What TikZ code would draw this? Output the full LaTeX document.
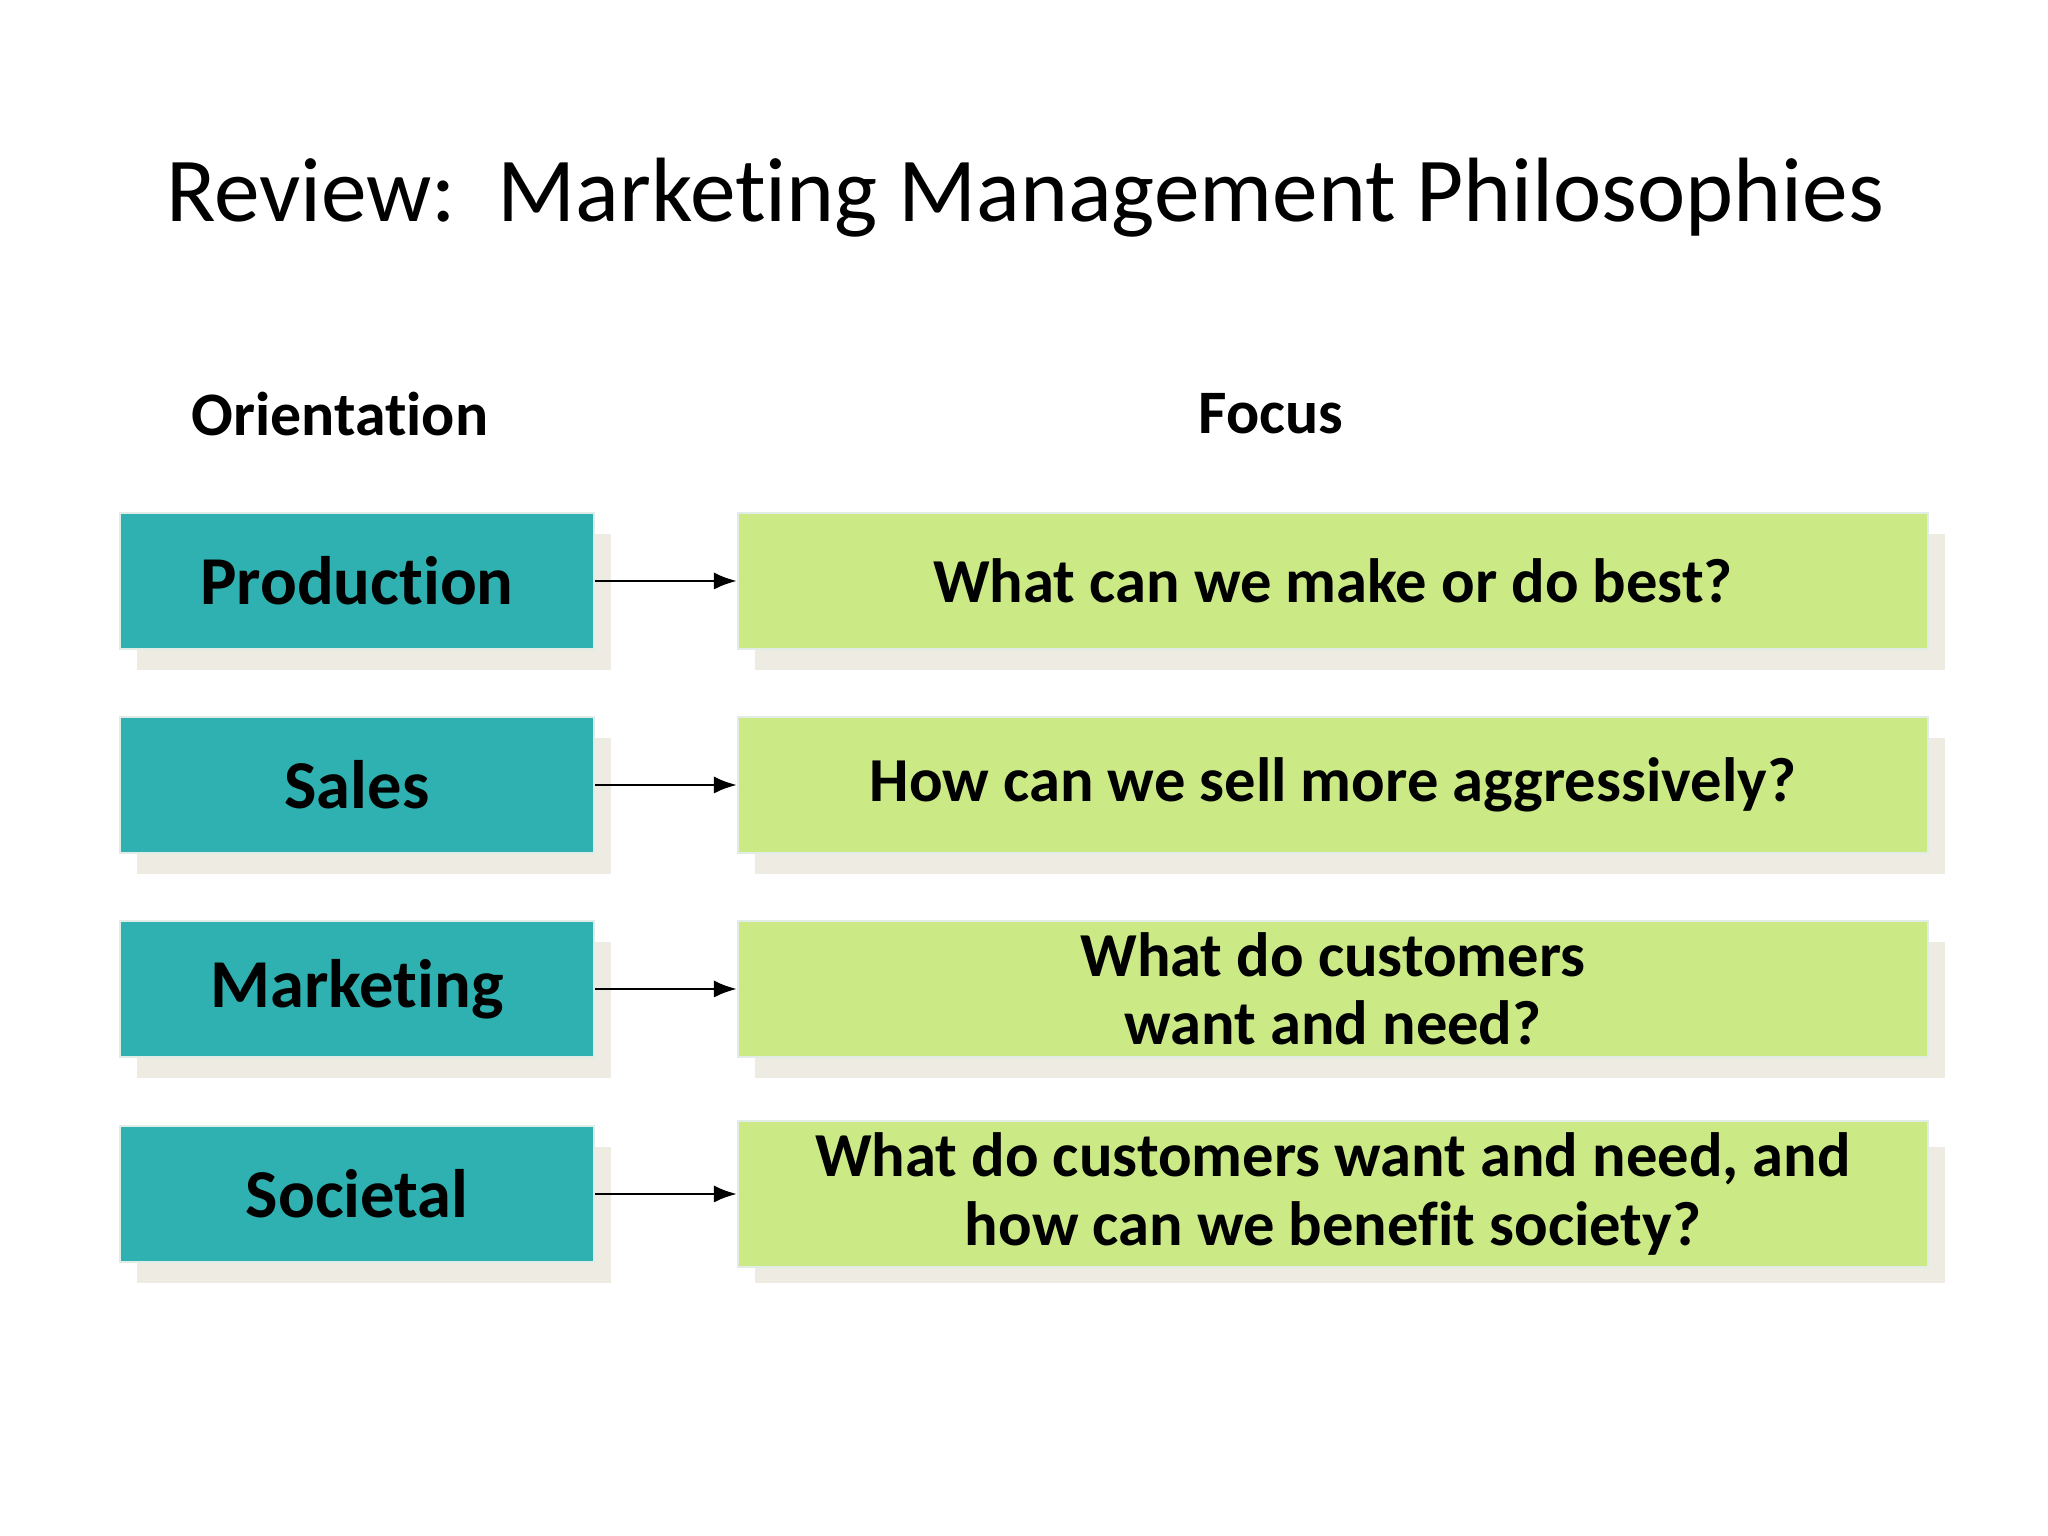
\documentclass[tikz,border=0pt]{standalone}
\usepackage{fontspec}
\setmainfont{Carlito}[Ligatures=NoCommon]
\usetikzlibrary{arrows.meta}
\definecolor{orientfill}{HTML}{2EB1B0}
\definecolor{focusfill}{HTML}{CBEA85}
\definecolor{shadowgray}{HTML}{EEEBE3}
\definecolor{edgegray}{HTML}{E2ECE6}
\tikzset{
  orientbox/.style={fill=orientfill, draw=edgegray, line width=0.6pt, minimum width=4.74cm, minimum height=1.36cm,
    font=\fontsize{19.5}{22}\selectfont\bfseries},
  focusbox/.style={fill=focusfill, draw=edgegray, line width=0.6pt, minimum width=11.9cm, minimum height=1.36cm,
    align=center, font=\fontsize{17.8}{19.5}\selectfont\bfseries},
  boxshadow/.style={fill=shadowgray, draw=none},
  header/.style={font=\fontsize{17.6}{21}\selectfont\bfseries}
}
\begin{document}
\begin{tikzpicture}[>=Latex]
\useasboundingbox (0,0) rectangle (20.48,15.36);
\node (title) at (10.25,13.38) {\fontsize{26}{31}\selectfont Review:\ \ Marketing Management Philosophies};
\node[header] (orient) at (3.40,11.22) {Orientation};
\node[header] (focus) at (12.71,11.22) {Focus};

\foreach \y/\n/\a/\b in {9.55/prod/Production/What can we make or do best?,
                          7.51/sales/Sales/How can we sell more aggressively?,
                          5.47/mkt/Marketing/{What do customers\\want and need?},
                          3.42/soc/Societal/{What do customers want and need, and\\how can we benefit society?}}
{
    \fill[boxshadow] (3.57+0.17-2.37,\y-0.21-0.68) rectangle (3.57+0.17+2.37,\y-0.21+0.68);
    \fill[boxshadow] (13.33+0.17-5.95,\y-0.21-0.68) rectangle (13.33+0.17+5.95,\y-0.21+0.68);
    \node[orientbox] (\n) at (3.57,\y) {\a};
    \node[focusbox] (\n f) at (13.33,\y) {\b};
    \draw[->, line width=0.8pt] (\n) -- (\n f);
}
\end{tikzpicture}
\end{document}
